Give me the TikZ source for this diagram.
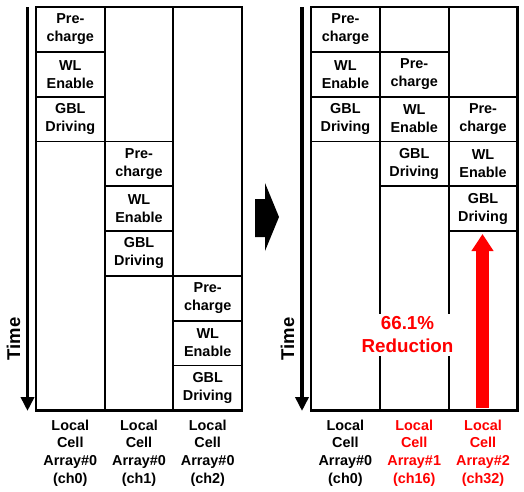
\documentclass[tikz,border=0pt]{standalone}
\usepackage{fontspec}
\setmainfont{Liberation Sans}
\usetikzlibrary{arrows.meta}
\newcommand\cbfont{\fontsize{14.4}{18}\selectfont\bfseries}
\newcommand\lbfont{\fontsize{14.4}{17.7}\selectfont\bfseries}
\newcommand\tmfont{\fontsize{18.5}{20}\selectfont\bfseries}
\newcommand\rdfont{\fontsize{18.8}{23}\selectfont\bfseries}
\begin{document}
\begin{tikzpicture}[x=1pt,y=-1pt,
  cellbox/.style={draw, line width=1.8pt, minimum width=68.8pt, minimum height=44.8pt,
    inner sep=0pt, outer sep=0pt, align=center, font=\cbfont},
  framebox/.style={line width=2.6pt},
  sepline/.style={line width=2pt},
  timearrow/.style={line width=3.8pt, -{Triangle[width=13pt,length=14pt]}},
  timelabel/.style={rotate=90, font=\tmfont},
  collabel/.style={align=center, font=\lbfont, inner sep=0pt}]
\useasboundingbox (0,0) rectangle (524,491);
% ---------- left panel ----------
\draw[framebox] (36,7) rectangle (242,410.2);
\draw[sepline] (104.7,7) -- (104.7,410.2);
\draw[sepline] (173.3,7) -- (173.3,410.2);
\node[cellbox] (pL0) at (70.3,29.4) {Pre-\\charge};
\node[cellbox] (wL0) at (70.3,74.2) {WL\\Enable};
\node[cellbox] (gL0) at (70.3,119) {GBL\\Driving};
\node[cellbox] (pL1) at (139,163.8) {Pre-\\charge};
\node[cellbox] (wL1) at (139,208.6) {WL\\Enable};
\node[cellbox] (gL1) at (139,253.4) {GBL\\Driving};
\node[cellbox] (pL2) at (207.7,298.2) {Pre-\\charge};
\node[cellbox] (wL2) at (207.7,343) {WL\\Enable};
\node[cellbox] (gL2) at (207.7,387.8) {GBL\\Driving};
\coordinate (tLa) at (27.5,7);
\coordinate (tLb) at (27.5,411);
\draw[timearrow] (tLa) -- (tLb);
\node[timelabel] (timeL) at (13.5,339) {Time};
\node[collabel] (lL0) at (70.3,453) {Local\\Cell\\Array\#0\\(ch0)};
\node[collabel] (lL1) at (139,453) {Local\\Cell\\Array\#0\\(ch1)};
\node[collabel] (lL2) at (207.7,453) {Local\\Cell\\Array\#0\\(ch2)};
% ---------- middle arrow ----------
\fill (255,199) -- (265,199) -- (265,183) -- (279,217) -- (265,251) -- (265,237) -- (255,237) -- cycle;
% ---------- right panel ----------
\coordinate (rb) at (482.5,408);
\coordinate (rt) at (482.5,234);
\draw[red, line width=13pt, -{Triangle[width=21pt,length=17pt]}] (rb) -- (rt);
\draw[framebox] (311,7) rectangle (517.4,410.2);
\draw[sepline] (379.8,7) -- (379.8,410.2);
\draw[sepline] (448.6,7) -- (448.6,410.2);
\node[cellbox] (pR0) at (345.4,29.4) {Pre-\\charge};
\node[cellbox] (wR0) at (345.4,74.2) {WL\\Enable};
\node[cellbox] (gR0) at (345.4,119) {GBL\\Driving};
\node[cellbox] (pR1) at (414.2,74.2) {Pre-\\charge};
\node[cellbox] (wR1) at (414.2,119) {WL\\Enable};
\node[cellbox] (gR1) at (414.2,163.8) {GBL\\Driving};
\node[cellbox] (pR2) at (483,119) {Pre-\\charge};
\node[cellbox] (wR2) at (483,163.8) {WL\\Enable};
\node[cellbox] (gR2) at (483,208.6) {GBL\\Driving};
\coordinate (tRa) at (302,7);
\coordinate (tRb) at (302,411);
\draw[timearrow] (tRa) -- (tRb);
\node[timelabel] (timeR) at (287.5,339) {Time};
\node[fill=white, text=red, align=center, font=\rdfont, inner xsep=1pt, inner ysep=3pt] (red) at (407.5,335) {66.1\%\\Reduction};
\node[collabel] (lR0) at (345.4,453) {Local\\Cell\\Array\#0\\(ch0)};
\node[collabel, text=red] (lR1) at (414.2,453) {Local\\Cell\\Array\#1\\(ch16)};
\node[collabel, text=red] (lR2) at (483,453) {Local\\Cell\\Array\#2\\(ch32)};
\end{tikzpicture}
\end{document}
